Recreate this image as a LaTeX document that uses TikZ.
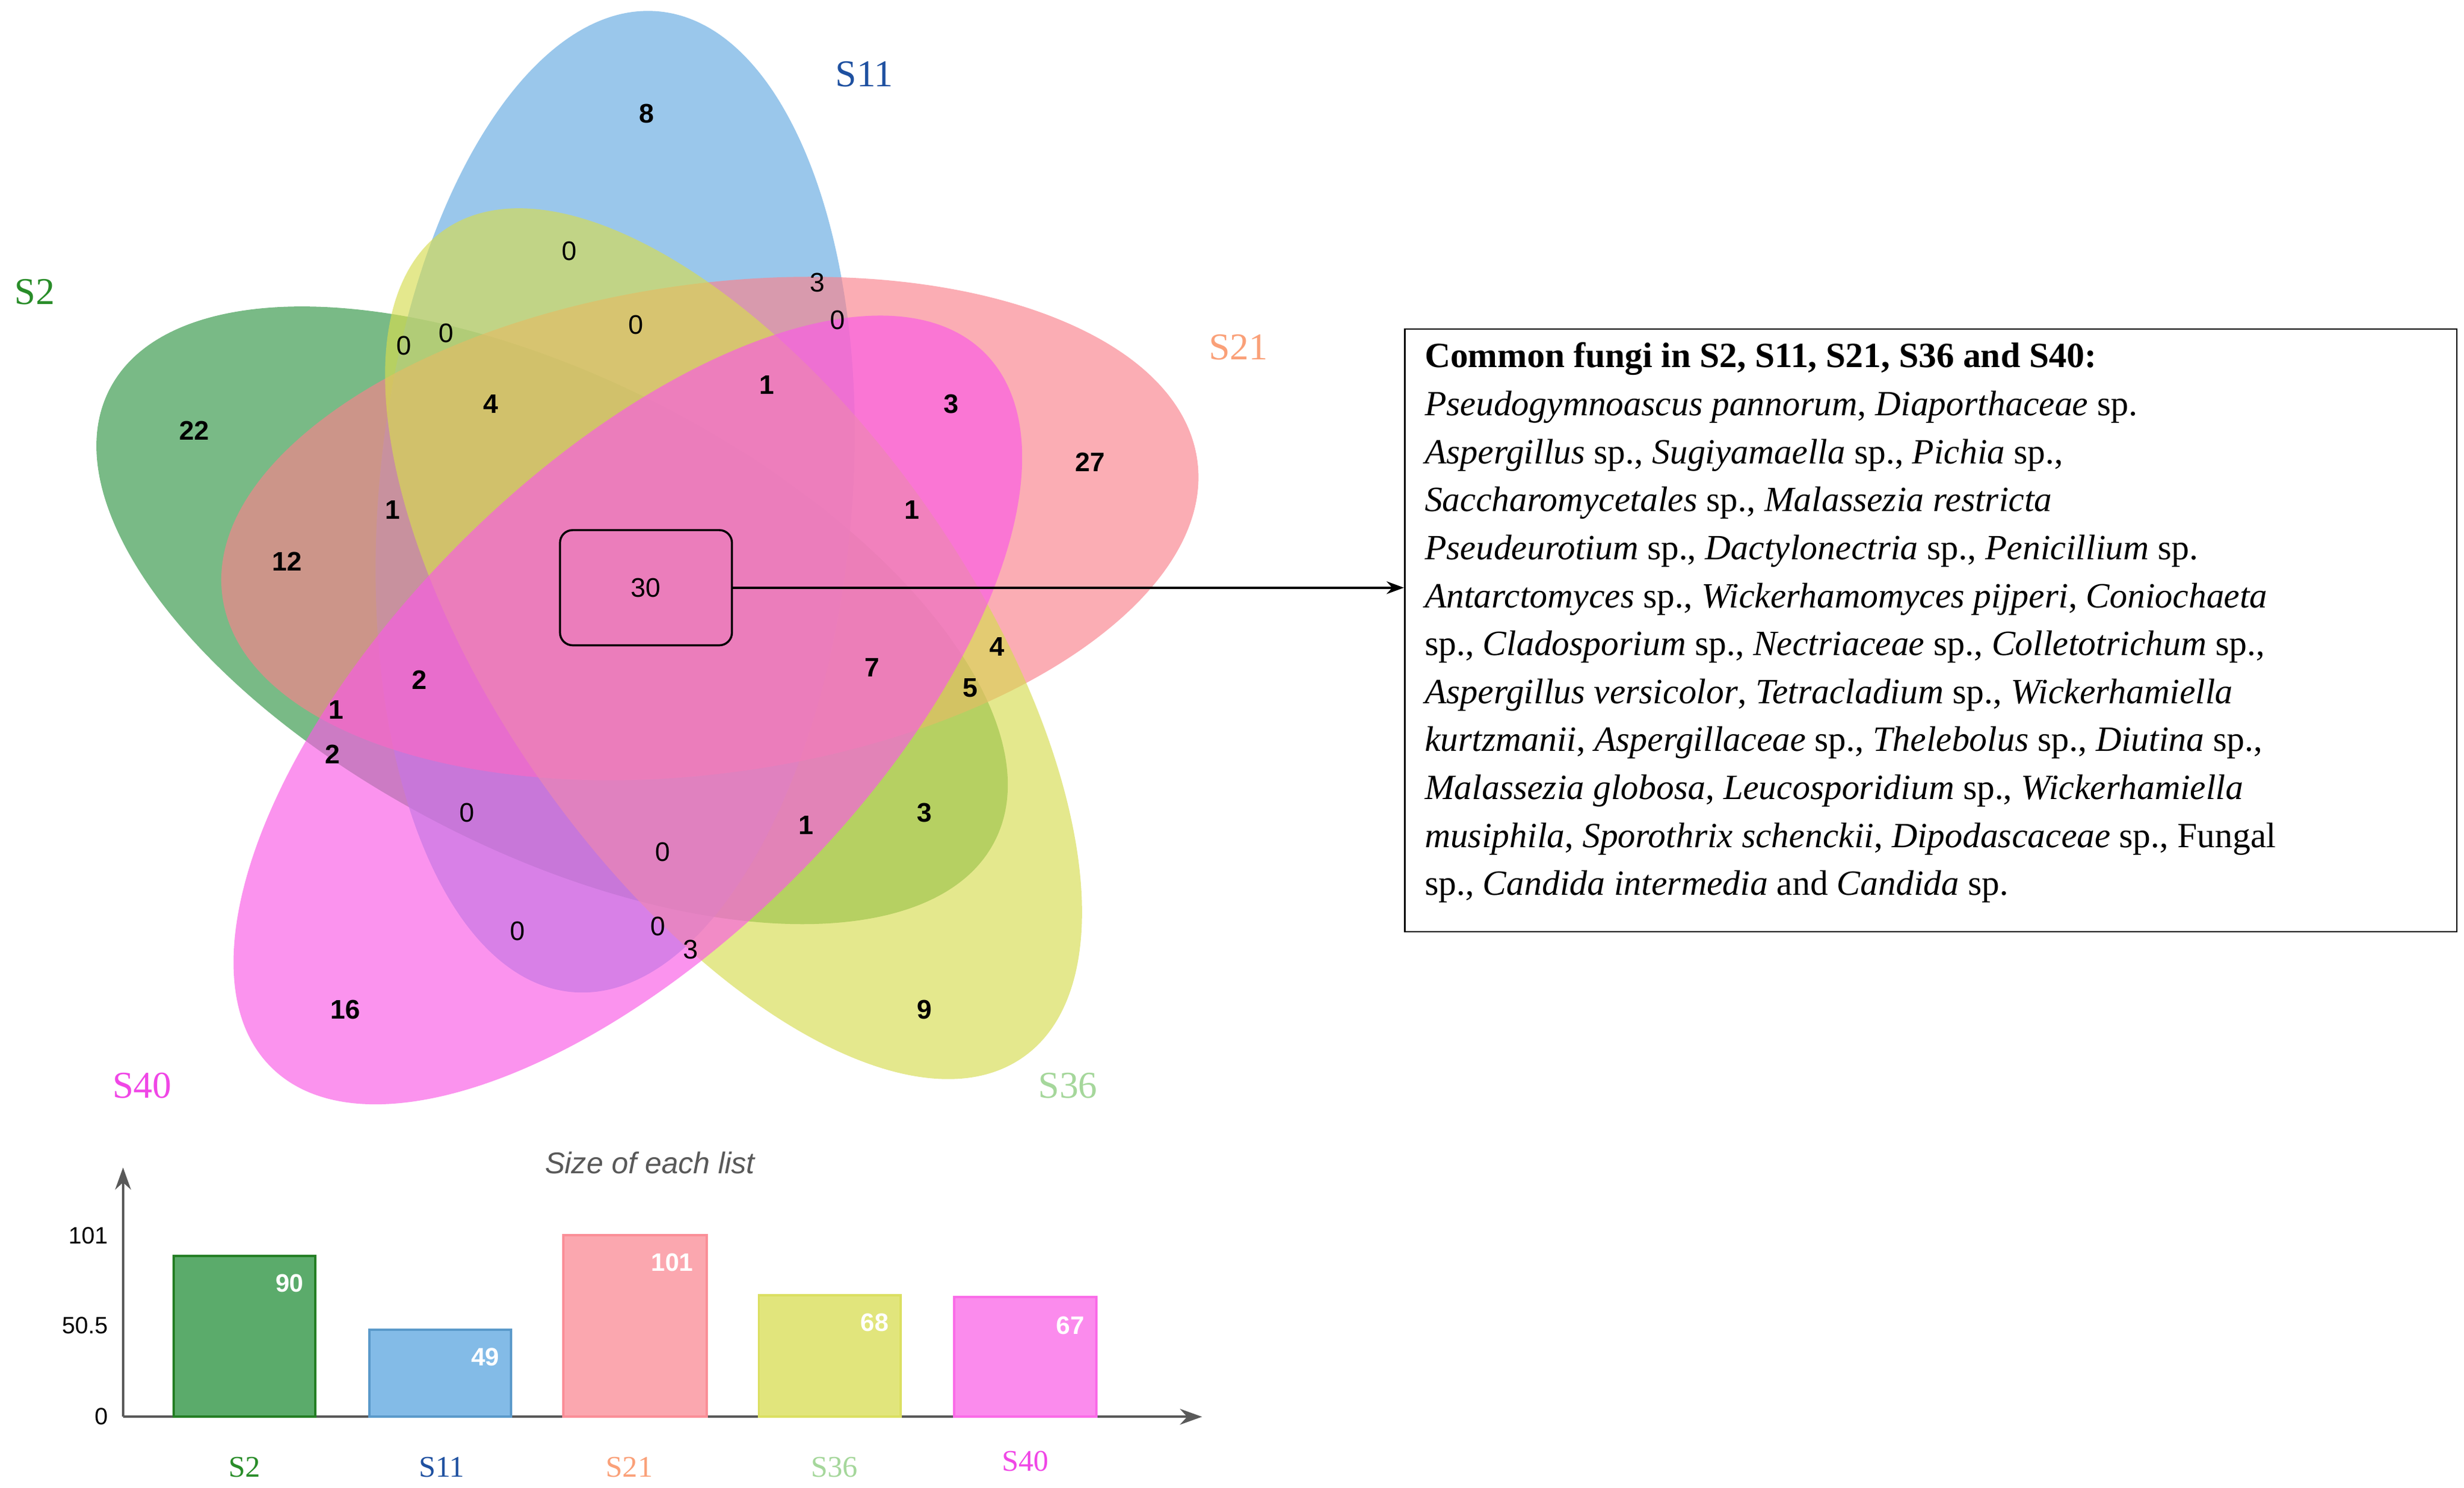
\documentclass[tikz,border=0pt]{standalone}
\usepackage{fontspec}
\setmainfont{Liberation Serif}
\setsansfont{Liberation Sans}
\usetikzlibrary{arrows.meta}
\definecolor{colg}{RGB}{50,150,70}
\definecolor{colb}{RGB}{100,170,225}
\definecolor{cols}{RGB}{250,130,140}
\definecolor{coly}{RGB}{215,220,80}
\definecolor{colm}{RGB}{250,90,230}
\definecolor{lSa}{RGB}{40,140,40}
\definecolor{lSb}{RGB}{30,80,160}
\definecolor{lSc}{RGB}{250,160,120}
\definecolor{lSd}{RGB}{165,215,155}
\definecolor{lSe}{RGB}{240,70,230}
\tikzset{
 ell/.style={fill opacity=0.65,draw=none},
 num/.style={font=\sffamily\bfseries\fontsize{17}{20}\selectfont},
 numn/.style={font=\sffamily\fontsize{17}{20}\selectfont},
 setlab/.style={font=\fontsize{24}{28}\selectfont},
 bar/.style={line width=1.5pt},
 barval/.style={font=\sffamily\bfseries\fontsize{16}{19}\selectfont,text=white,anchor=north east},
 tick/.style={font=\sffamily\fontsize{15}{18}\selectfont,anchor=east},
 xlab/.style={font=\fontsize{19}{22}\selectfont}
}
\begin{document}
\begin{tikzpicture}[x=1pt,y=-1pt]
\useasboundingbox (0,0) rectangle (1562,943);
\fill[white] (0,0) rectangle (1562,943);
% ellipses
\fill[ell,colg] (350,390) ellipse[x radius=315,y radius=150,rotate=-27];
\fill[ell,colb] (390,318) ellipse[x radius=312,y radius=150,rotate=-95];
\fill[ell,cols] (450,335) ellipse[x radius=312,y radius=155,rotate=8];
\fill[ell,coly] (465,408) ellipse[x radius=320,y radius=150,rotate=-55];
\fill[ell,colm] (398,450) ellipse[x radius=320,y radius=150,rotate=45];
% set labels
\node[setlab,text=lSb] (l11) at (548,47) {S11};
\node[setlab,text=lSa] (l2) at (22,185) {S2};
\node[setlab,text=lSc] (l21) at (785,220) {S21};
\node[setlab,text=lSd] (l36) at (677,688) {S36};
\node[setlab,text=lSe] (l40) at (90,688) {S40};
% numbers
\foreach \t/\x/\y in {8/410/72,22/123/273,4/311/256,1/486/244,3/603/256,27/691/293,1/249/323,1/578/323,12/182/356,7/553/423,4/632/410,5/615/436,2/266/431,1/213/450,2/211/478,1/511/523,3/586/515,16/219/640,9/586/640}
  \node[num] at (\x,\y) {\t};
\foreach \t/\x/\y in {0/361/159,3/518/179,0/531/203,0/403/206,0/256/219,0/283/211,0/296/515,0/420/540,0/328/590,0/417/587,3/438/602}
  \node[numn] at (\x,\y) {\t};
\node[numn,draw,line width=1.3pt,rounded corners=8pt,minimum width=109pt,minimum height=73pt] (c30) at (409.5,372.5) {30};
% text box
\node[draw,line width=1pt,anchor=north west,minimum width=667pt,minimum height=382pt,inner sep=0pt] (box) at (890,208) {};
\node[anchor=north west,align=left,inner sep=0pt,font=\fontsize{22.5}{30.4}\selectfont] (boxt) at (903,217) {%
\textbf{Common fungi in S2, S11, S21, S36 and S40:}\\
\textit{Pseudogymnoascus pannorum}, \textit{Diaporthaceae} sp.\\
\textit{Aspergillus} sp., \textit{Sugiyamaella} sp., \textit{Pichia} sp.,\\
\textit{Saccharomycetales} sp., \textit{Malassezia restricta}\\
\textit{Pseudeurotium} sp., \textit{Dactylonectria} sp., \textit{Penicillium} sp.\\
\textit{Antarctomyces} sp., \textit{Wickerhamomyces pijperi}, \textit{Coniochaeta}\\
sp., \textit{Cladosporium} sp., \textit{Nectriaceae} sp., \textit{Colletotrichum} sp.,\\
\textit{Aspergillus versicolor}, \textit{Tetracladium} sp., \textit{Wickerhamiella}\\
\textit{kurtzmanii}, \textit{Aspergillaceae} sp., \textit{Thelebolus} sp., \textit{Diutina} sp.,\\
\textit{Malassezia globosa}, \textit{Leucosporidium} sp., \textit{Wickerhamiella}\\
\textit{musiphila}, \textit{Sporothrix schenckii}, \textit{Dipodascaceae} sp., Fungal\\
sp., \textit{Candida intermedia} and \textit{Candida} sp.};
\draw[line width=1.5pt,-{Stealth[length=11pt,width=8pt]}] (c30.east) -- (box.west |- c30.east);
% bar chart
\coordinate (o) at (78,898);
\coordinate (ytop) at (78,740);
\coordinate (xend) at (762,898);
\draw[line width=1.5pt,draw=gray!70!black,-{Stealth[length=14pt,width=10pt]}] (o) -- (ytop);
\draw[line width=1.5pt,draw=gray!70!black,-{Stealth[length=14pt,width=10pt]}] (o) -- (xend);
\node[font=\sffamily\itshape\fontsize{19}{22}\selectfont,text=gray!70!black] (title) at (412,737) {Size of each list};
\node[tick] (t101) at (72,783) {101};
\node[tick] (t50) at (72,840) {50.5};
\node[tick] (t0) at (72,898) {0};
\draw[bar,draw=lSa!90!black,fill=colg!80] (110,796) rectangle (200,898);
\draw[bar,draw=colb!90!black,fill=colb!80] (234,843) rectangle (324,898);
\draw[bar,draw=cols!90,fill=cols!70] (357,783) rectangle (448,898);
\draw[bar,draw=coly!90,fill=coly!75] (481,821) rectangle (571,898);
\draw[bar,draw=colm!90,fill=colm!70] (605,822) rectangle (695,898);
\node[barval] at (196,804) {90};
\node[barval] at (320,851) {49};
\node[barval] at (443,791) {101};
\node[barval] at (567,829) {68};
\node[barval] at (691,831) {67};
\node[xlab,text=lSa] at (155,930) {S2};
\node[xlab,text=lSb] at (280,930) {S11};
\node[xlab,text=lSc] at (399,930) {S21};
\node[xlab,text=lSd] at (529,930) {S36};
\node[xlab,text=lSe] at (650,926) {S40};
\end{tikzpicture}
\end{document}
